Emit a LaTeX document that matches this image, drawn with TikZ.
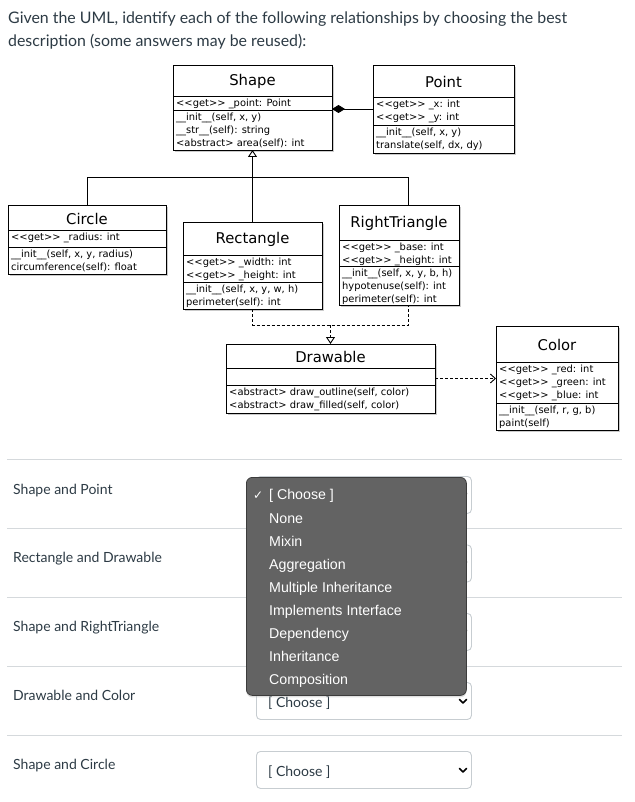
\documentclass[tikz,border=0pt]{standalone}
\usepackage{fontspec}
\setmainfont{Lato}
\newfontfamily\umlf{DejaVu Sans}
\newfontfamily\menuf{Liberation Sans}
\newfontfamily\symf{DejaVu Sans}
\usetikzlibrary{arrows.meta,shadows}
\definecolor{ink}{HTML}{2D3B45}
\definecolor{rule}{HTML}{D5D9DC}
\definecolor{selborder}{HTML}{C7CDD1}
\definecolor{menubg}{HTML}{636363}
\definecolor{menuedge}{HTML}{3C3C3C}
\newcommand\ster{<{}<get>{}>}
\newcommand\uu{\_\_}
\tikzset{
  umlbox/.style={draw=black, fill=white, line width=0.9pt, inner sep=0pt, outer sep=0pt,
    drop shadow={shadow xshift=2pt, shadow yshift=-2pt, fill=black!40, opacity=0.5}},
  umltitle/.style={font=\umlf\fontsize{14.8}{16}\selectfont, inner sep=0pt},
  umltext/.style={font=\umlf\fontsize{9.9}{13.4}\selectfont, align=left, inner sep=0pt, anchor=north west},
  umlline/.style={draw=black, line width=0.9pt},
  dashline/.style={draw=black, line width=0.9pt, dash pattern=on 3pt off 2pt},
  qlabel/.style={font=\fontsize{14}{16}\selectfont, text=ink, anchor=base west, inner sep=0pt},
  selbox/.style={draw=selborder, fill=white, line width=0.9pt, rounded corners=4pt, anchor=north west,
    minimum width=215pt, minimum height=37pt, inner sep=0pt},
  seltext/.style={font=\fontsize{14}{16}\selectfont, text=ink, anchor=base west, inner sep=0pt},
  menuitem/.style={font=\menuf\fontsize{14.2}{16}\selectfont, text=white, anchor=base west, inner sep=0pt},
}
% name, x1, y1, x2, y2, sep1, sep2, attrs, methods
\newcommand\umlclass[9]{%
  \node[umlbox, minimum width={#4-#2}, minimum height={#5-#3}, anchor=north west] (#1) at (#2,#3) {};
  \draw[umlline] (#2,#6) -- (#4,#6);
  \draw[umlline] (#2,#7) -- (#4,#7);
  \node[umltitle] (#1-t) at ({(#2+#4)/2},{(#3+#6)/2+1}) {#1};
  \node[umltext] (#1-a) at ({#2+3},{#6+2.3}) {#8};
  \node[umltext] (#1-m) at ({#2+3},{#7+2.3}) {#9};
}
\begin{document}
\begin{tikzpicture}[x=1pt,y=-1pt]
\useasboundingbox[fill=white] (0,0) rectangle (634,802);

% question text
\node[font=\fontsize{15.9}{18}\selectfont, text=ink, anchor=base west, inner sep=0pt] (title1) at (8,24)
  {Given the UML, identify each of the following relationships by choosing the best};
\node[font=\fontsize{15.9}{18}\selectfont, text=ink, anchor=base west, inner sep=0pt] (title2) at (8,47)
  {description (some answers may be reused):};

% classes
\umlclass{Shape}{173}{65}{332}{150}{96}{110}{\ster\ \_point: Point}{\uu init\uu(self, x, y)\\\uu str\uu(self): string\\<abstract> area(self): int}
\umlclass{Point}{373}{65}{514}{153}{97}{125}{\ster\ \_x: int\\\ster\ \_y: int}{\uu init\uu(self, x, y)\\translate(self, dx, dy)}
\umlclass{Circle}{8}{205}{166}{274}{230}{247}{\ster\ \_radius: int}{\uu init\uu(self, x, y, radius)\\circumference(self): float}
\umlclass{Rectangle}{183}{222}{322}{309}{255}{282}{\ster\ \_width: int\\\ster\ \_height: int}{\uu init\uu(self, x, y, w, h)\\perimeter(self): int}
\umlclass{RightTriangle}{339}{205}{459}{305}{240}{266}{\ster\ \_base: int\\\ster\ \_height: int}{\uu init\uu(self, x, y, b, h)\\hypotenuse(self): int\\perimeter(self): int}
\umlclass{Drawable}{226}{344}{435}{413}{368}{385}{}{<abstract> draw\_outline(self, color)\\<abstract> draw\_filled(self, color)}
\umlclass{Color}{496}{326}{618}{430}{362}{403}{\ster\ \_red: int\\\ster\ \_green: int\\\ster\ \_blue: int}{\uu init\uu(self, r, g, b)\\paint(self)}

% inheritance tree
\coordinate (bus-l) at (87,177);
\coordinate (bus-m) at (252.5,177);
\coordinate (bus-r) at (408,177);
\draw[umlline] (Circle.north) -- (bus-l) -- (bus-r) -- (bus-r |- RightTriangle.north);
\draw[umlline] (Rectangle.north) -- (bus-m);
\draw[umlline, -{Triangle[open, length=7pt, width=9pt]}] (bus-m) -- (Shape.south);

% realization
\coordinate (real-l) at (252.5,325);
\coordinate (real-m) at (330.5,325);
\coordinate (real-r) at (408,325);
\draw[dashline] (Rectangle.south) -- (real-l) -- (real-r) -- (real-r |- RightTriangle.south);
\draw[dashline, -{Triangle[open, length=7pt, width=9pt]}] (real-m) -- (Drawable.north);

% composition
\draw[umlline, {Diamond[length=13pt, width=8pt]}-] (Shape.east |- Point.west) -- (Point.west);

% dependency
\draw[dashline, -{Straight Barb[length=5pt, width=9pt]}] (Drawable.east) -- (Color.west |- Drawable.east);

% question rows
\foreach \yy in {459,528,597,666,735} {
  \draw[draw=rule, line width=1pt] (7,\yy) -- (622,\yy);
}
\node[qlabel] (q1) at (13,494) {Shape and Point};
\node[qlabel] (q2) at (13,562.5) {Rectangle and Drawable};
\node[qlabel] (q3) at (13,631) {Shape and RightTriangle};
\node[qlabel] (q4) at (13,700) {Drawable and Color};
\node[qlabel] (q5) at (13,769) {Shape and Circle};

% select boxes (rows 1-3 are hidden behind the open menu except their right edge)
\foreach \ll/\nm in {489/s1,557.5/s2,626/s3,695/s4,764/s5} {
  \node[selbox] (\nm) at (256,\ll-13) {};
  \draw[line width=1.5pt, line cap=round, line join=round] (459.5,\ll+4.5) -- (463,\ll+8) -- (466.5,\ll+4.5);
}
\node[seltext] (s4-t) at (268,707) {[ Choose ]};
\node[seltext] (s5-t) at (268,776) {[ Choose ]};

% open dropdown menu
\node[draw=menuedge, fill=menubg, line width=0.8pt, rounded corners=6pt, anchor=north west,
  minimum width=220pt, minimum height=218pt, inner sep=0pt,
  drop shadow={shadow xshift=0pt, shadow yshift=-2pt, fill=black!30, opacity=0.4}] (menu) at (246,477) {};
\node[font=\symf\fontsize{12}{14}\selectfont, text=white, anchor=base west, inner sep=0pt] (check) at (253,499) {✓};
\node[menuitem] (m0) at (269,499) {[ Choose ]};
\node[menuitem] (m1) at (269,523) {None};
\node[menuitem] (m2) at (269,546) {Mixin};
\node[menuitem] (m3) at (269,569) {Aggregation};
\node[menuitem] (m4) at (269,592) {Multiple Inheritance};
\node[menuitem] (m5) at (269,615) {Implements Interface};
\node[menuitem] (m6) at (269,638) {Dependency};
\node[menuitem] (m7) at (269,661) {Inheritance};
\node[menuitem] (m8) at (269,684) {Composition};
\end{tikzpicture}
\end{document}
